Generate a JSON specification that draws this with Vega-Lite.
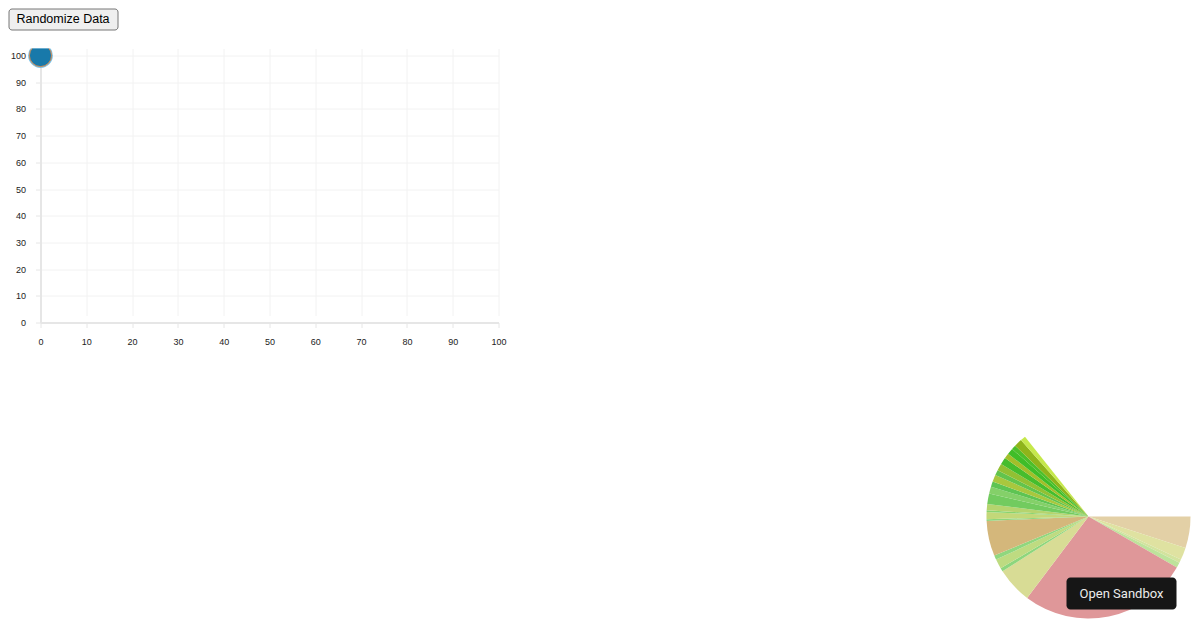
{
  "$schema": "https://vega.github.io/schema/vega-lite/v6.json",
  "padding": {"left": 7.5, "top": 7.5, "right": 0, "bottom": 0},
  "autosize": {"type": "pad"},
  "config": {
    "view": {"stroke": null},
    "axis": {"labelFont": "Liberation Sans"}
  },
  "spacing": 18,
  "vconcat": [
    {
      "width": 109,
      "height": 21,
      "view": {"fill": "#efefef", "stroke": "#767676", "strokeWidth": 1, "cornerRadius": 3},
      "data": {"values": [{"label": "Randomize Data"}]},
      "mark": {"type": "text", "font": "Liberation Sans", "fontSize": 12.5, "color": "#000000"},
      "encoding": {"text": {"field": "label", "type": "nominal"}}
    },
    {
      "width": 490,
      "height": 274,
      "data": {"values": [{"x": 0, "y": 100}]},
      "encoding": {
        "x": {
          "field": "x",
          "type": "quantitative",
          "scale": {"domain": [0, 100], "range": [32, 490], "nice": false},
          "axis": {
            "title": null,
            "grid": true,
            "gridColor": "#f2f2f2",
            "domainColor": "#e6e6e6",
            "domainWidth": 2,
            "tickColor": "#e6e6e6",
            "tickSize": 5,
            "tickCount": 10,
            "labelFontSize": 9,
            "labelColor": "#222222",
            "labelPadding": 10,
            "labelFlush": false,
            "labelOverlap": false
          }
        },
        "y": {
          "field": "y",
          "type": "quantitative",
          "scale": {"domain": [0, 100], "range": [274, 7], "nice": false},
          "axis": {
            "title": null,
            "offset": -32,
            "grid": true,
            "gridColor": "#f2f2f2",
            "domainColor": "#e6e6e6",
            "domainWidth": 2,
            "tickColor": "#e6e6e6",
            "tickSize": 5,
            "tickCount": 10,
            "labelFontSize": 9,
            "labelColor": "#222222",
            "labelPadding": 10,
            "labelOverlap": false
          }
        }
      },
      "layer": [
        {"mark": {"type": "point", "filled": true, "shape": "circle", "size": 616, "color": "#7cc3e8", "opacity": 1, "clip": true}},
        {"mark": {"type": "point", "filled": true, "shape": "circle", "size": 491, "fill": "#1879aa", "stroke": "#d98b4f", "strokeWidth": 1, "opacity": 1, "clip": true}}
      ]
    },
    {
      "spacing": 0,
      "hconcat": [
        {
          "width": 978,
          "height": 1,
          "data": {"values": [{}]},
          "mark": {"type": "text", "text": ""},
          "encoding": {}
        },
        {
          "spacing": 0,
          "bounds": "flush",
          "vconcat": [
            {
              "width": 1,
              "height": 85,
              "data": {"values": [{}]},
              "mark": {"type": "text", "text": ""},
              "encoding": {}
            },
            {
              "width": 204,
              "height": 122,
              "data": {
                "values": [
                  {"slice": "s01", "angle": 18},
                  {"slice": "s02", "angle": 7},
                  {"slice": "s03", "angle": 2},
                  {"slice": "s04", "angle": 3},
                  {"slice": "s05", "angle": 97},
                  {"slice": "s06", "angle": 20.5},
                  {"slice": "s07", "angle": 2},
                  {"slice": "s08", "angle": 5.5},
                  {"slice": "s09", "angle": 2.5},
                  {"slice": "s10", "angle": 20},
                  {"slice": "s11", "angle": 1},
                  {"slice": "s12", "angle": 4},
                  {"slice": "s13", "angle": 1},
                  {"slice": "s14", "angle": 3.5},
                  {"slice": "s15", "angle": 6},
                  {"slice": "s16", "angle": 4},
                  {"slice": "s17", "angle": 3},
                  {"slice": "s18", "angle": 4},
                  {"slice": "s19", "angle": 3},
                  {"slice": "s20", "angle": 4},
                  {"slice": "s21", "angle": 4},
                  {"slice": "s22", "angle": 3},
                  {"slice": "s23", "angle": 3.5},
                  {"slice": "s24", "angle": 2.5},
                  {"slice": "s25", "angle": 4.5},
                  {"slice": "s26", "angle": 3}
                ]
              },
              "mark": {"type": "arc", "outerRadius": 102},
              "encoding": {
                "theta": {
                  "field": "angle",
                  "type": "quantitative",
                  "stack": true,
                  "scale": {"range": [1.5708, 5.6112]}
                },
                "order": {"field": "slice", "type": "ordinal"},
                "color": {
                  "field": "slice",
                  "type": "nominal",
                  "legend": null,
                  "scale": {
                    "domain": ["s01", "s02", "s03", "s04", "s05", "s06", "s07", "s08", "s09", "s10", "s11", "s12", "s13", "s14", "s15", "s16", "s17", "s18", "s19", "s20", "s21", "s22", "s23", "s24", "s25", "s26"],
                    "range": ["#e3d0a6", "#dfe2a1", "#d3e39e", "#bee39b", "#df9799", "#d8dc95", "#8dd67d", "#bedb81", "#90d77e", "#d4b77b", "#8ed67b", "#c3d879", "#88d370", "#b5d46e", "#72cb5f", "#84d069", "#5ec453", "#a9c73e", "#62c44c", "#92c033", "#45bd2d", "#a3be2a", "#3fbd28", "#4cbf2a", "#8fb41a", "#c5e84b"]
                  }
                }
              }
            },
            {
              "spacing": 0,
              "hconcat": [
                {
                  "width": 80,
                  "height": 1,
                  "data": {"values": [{}]},
                  "mark": {"type": "text", "text": ""},
                  "encoding": {}
                },
                {
                  "width": 110,
                  "height": 32,
                  "view": {"fill": "#161616", "stroke": null, "cornerRadius": 4},
                  "data": {"values": [{"label": "Open Sandbox"}]},
                  "mark": {"type": "text", "font": "Roboto", "fontSize": 13, "color": "#ececec"},
                  "encoding": {"text": {"field": "label", "type": "nominal"}}
                }
              ]
            }
          ]
        }
      ]
    }
  ]
}
